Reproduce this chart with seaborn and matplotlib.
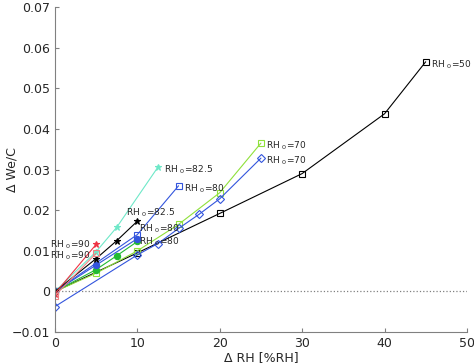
import numpy as np
import pandas as pd
import matplotlib
matplotlib.use("Agg")
import matplotlib.pyplot as plt
import seaborn as sns

# ── data ─────────────────────────────────────
rh50_x = [0, 10, 20, 30, 40, 45]
rh50_y = [0.0, 0.0095, 0.0192, 0.0290, 0.0437, 0.0565]

rh70g_x = [0, 5, 10, 15, 20, 25]
rh70g_y = [0.0, 0.0045, 0.0100, 0.0165, 0.0243, 0.0365]

rh70b_x = [0, 10, 12.5, 15, 17.5, 20, 25]
rh70b_y = [-0.0037, 0.0090, 0.0118, 0.0155, 0.0190, 0.0228, 0.0328]

rh80s_x = [0, 10, 15]
rh80s_y = [0.0, 0.0140, 0.0260]

rh80c_x = [0, 5, 10]
rh80c_y = [0.0, 0.0065, 0.0130]

rh80g_x = [0, 5, 7.5, 10]
rh80g_y = [0.0, 0.0054, 0.0088, 0.0123]

rh825c_x = [0, 5, 7.5, 12.5]
rh825c_y = [0.0, 0.0098, 0.0158, 0.0306]

rh825k_x = [0, 5, 7.5, 10]
rh825k_y = [0.0, 0.0081, 0.0125, 0.0173]

rh90r_x = [0, 5]
rh90r_y = [-0.0005, 0.0116]

rh90p_x = [0, 5]
rh90p_y = [-0.0010, 0.0094]

series = [
    # x, y, colour, marker, label, label offset (pt), alignment
    (rh50_x, rh50_y, "black", "s", "RH $_0$=50", (4, -2), "left"),
    (rh70g_x, rh70g_y, "#8fe03a", "s", "RH $_0$=70", (4, -2), "left"),
    (rh70b_x, rh70b_y, "#3355dd", "D", "RH $_0$=70", (4, -2), "left"),
    (rh80g_x, rh80g_y, "#22bb33", "o", "RH $_0$=80", (1, 0), "left"),
    (rh80c_x, rh80c_y, "#3355dd", "o", "RH $_0$=80", (1, 7), "left"),
    (rh80s_x, rh80s_y, "#3355dd", "s", "RH $_0$=80", (4, -2), "left"),
    (rh825c_x, rh825c_y, "#6ee8c8", "*", "RH $_0$=82.5", (4, -2), "left"),
    (rh825k_x, rh825k_y, "black", "*", "RH $_0$=82.5", (-8, 6), "left"),
    (rh90r_x, rh90r_y, "#ee3344", "*", "RH $_0$=90", (-4, 0), "right"),
    (rh90p_x, rh90p_y, "#f08080", "s", "RH $_0$=90", (-4, -2), "right"),
]

sns.set_style("ticks")
plt.rcParams["font.family"] = ["DejaVu Sans"]

fig = plt.figure(figsize=(4.74, 3.63), dpi=100)
ax = fig.add_axes([0.116, 0.085, 0.869, 0.896])

ax.axhline(0, color="grey", linestyle=":", linewidth=0.9, zorder=0)

for xs, ys, col, mk, lab, off, ha in series:
    df = pd.DataFrame({"x": xs, "y": ys})
    filled = mk in ("*", "o")
    sns.lineplot(data=df, x="x", y="y", ax=ax, color=col, linewidth=0.8,
                 marker=mk, markersize=4.5 if mk != "*" else 5,
                 markerfacecolor=col if filled else "none",
                 markeredgecolor=col, markeredgewidth=0.8,
                 sort=False, estimator=None)
    ax.annotate(lab, (xs[-1], ys[-1]), xytext=off, textcoords="offset points",
                fontsize=6.5, va="center", ha=ha)

ax.set_xlim(0, 50)
ax.set_ylim(-0.01, 0.07)
ax.set_xticks([0, 10, 20, 30, 40, 50])
ax.set_yticks([-0.01, 0, 0.01, 0.02, 0.03, 0.04, 0.05, 0.06, 0.07])
ax.set_yticklabels(["\u22120.01", "0", "0.01", "0.02", "0.03", "0.04", "0.05", "0.06", "0.07"])
ax.tick_params(direction="in", labelsize=9, length=3, color="grey")
ax.set_xlabel("\u0394 RH [%RH]", fontsize=9, labelpad=1)
ax.set_ylabel("\u0394 We/C", fontsize=9)
ax.yaxis.set_label_coords(-0.088, 0.5)
for s in ("left", "bottom"):
    ax.spines[s].set_color("grey")
sns.despine(ax=ax)

fig.savefig("out.png", dpi=100)
